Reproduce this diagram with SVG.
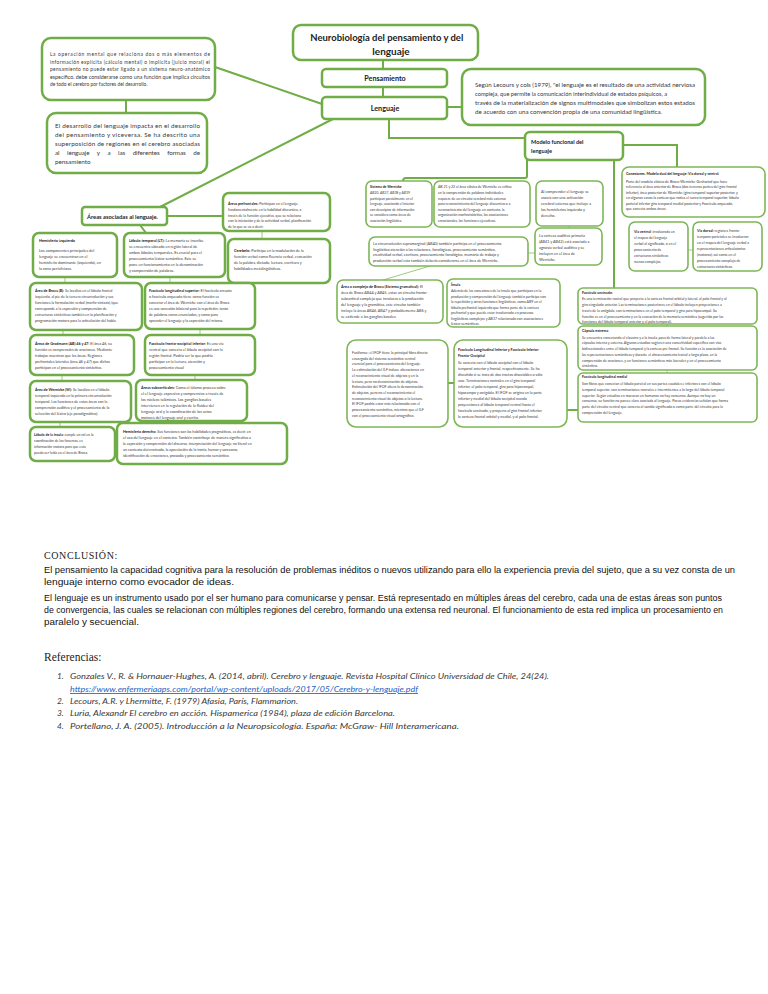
<svg xmlns="http://www.w3.org/2000/svg" width="768" height="994" viewBox="0 0 768 994">
<style>
.bg{fill:#fff}
.b{fill:#fff;stroke:#70AD47;stroke-width:2.5}
.s{fill:#fff;stroke:#7DB657;stroke-width:1.6}
.c{fill:none;stroke:#70AD47;stroke-width:2}
.ct{fill:none;stroke:#9CCB7E;stroke-width:1}
text{font-family:Lato,"Open Sans","Liberation Sans",sans-serif;fill:#3a3a3a}
.bd{font-weight:700;fill:#222}
.ser{font-family:"Liberation Serif","DejaVu Serif",serif;fill:#222}
.nar{font-family:"Liberation Sans",Arial,sans-serif;fill:#111}
.it{font-style:italic;font-weight:400;fill:#3a3a3a}
.lnk{fill:#1F5FBF;text-decoration:underline}
</style>
<rect class="bg" x="0" y="0" width="768" height="994"/>

<g id="connectors">
  <path class="c" d="M383,60 V69"/>
  <path class="c" d="M383,87 V97"/>
  <path class="c" d="M215,67 L322,104"/>
  <path class="c" d="M447,107 H462"/>
  <path class="c" d="M126,100 V113"/>
  <path class="c" d="M333,119 L160,207"/>
  <path class="c" d="M389,119 V138 H525"/>
  <path class="c" d="M527,160 V176 Q527,178 525,178 H406 Q403,178 403,181"/>
  <path class="c" d="M623,145 H677 V167"/>
  <path class="c" d="M614,160 V288"/>
  <path class="c" d="M167,216 H223"/>
  <path class="c" d="M140,225 L146,233"/>
  <path class="ct" d="M262,231 V239"/>
  <path class="ct" d="M430,266 L383,280"/>
  <path class="ct" d="M528,253 H535"/>
  <path class="ct" d="M569,226 V228"/>
  <path class="c" d="M448,383 H454"/>
  <path class="c" d="M567,410 H578"/>
  <path class="ct" d="M688,250 H693"/>
  <path class="ct" d="M667,324 V326"/>
  <path class="ct" d="M667,370 V373"/>
  <path class="ct" d="M65,277 V283"/>
  <path class="ct" d="M170,277 V283"/>
  <path class="ct" d="M63,330 V335"/>
  <path class="ct" d="M200,329 V335"/>
  <path class="ct" d="M62,375 V381"/>
  <path class="ct" d="M195,375 V380"/>
  <path class="ct" d="M60,422 V427"/>
  <path class="ct" d="M190,421 V423"/>
</g>

<g id="n-operacion">
  <rect class="b" x="42" y="38" width="173" height="62" rx="9"/>
  <text font-size="4.9">
    <tspan x="50" y="56" textLength="160" lengthAdjust="spacing">La operación mental que relaciona dos o más elementos de</tspan>
    <tspan x="50" y="63.5" textLength="160" lengthAdjust="spacing">información explícita (cálculo mental) o implícita (juicio moral) el</tspan>
    <tspan x="50" y="71" textLength="160" lengthAdjust="spacing">pensamiento no puede estar ligado a un sistema neuro-anatómico</tspan>
    <tspan x="50" y="78.5" textLength="160" lengthAdjust="spacingAndGlyphs">específico. debe considerarse como una función que implica circuitos</tspan>
    <tspan x="50" y="86">de todo el cerebro por factores del desarrollo.</tspan>
  </text>
</g>

<g id="n-titulo">
  <rect class="b" x="293" y="25" width="185" height="35" rx="8"/>
  <text class="bd" font-size="10" text-anchor="middle">
    <tspan x="388" y="41" textLength="153" lengthAdjust="spacingAndGlyphs">Neurobiología del pensamiento y del</tspan>
    <tspan x="391" y="55">lenguaje</tspan>
  </text>
</g>

<g id="n-pensamiento">
  <rect class="b" x="322" y="69" width="125" height="18" rx="4"/>
  <text class="bd" font-size="7.2" text-anchor="middle" x="385" y="81">Pensamiento</text>
</g>

<g id="n-lenguaje">
  <rect class="b" x="322" y="97" width="125" height="22" rx="4"/>
  <text class="bd" font-size="7.2" text-anchor="middle" x="385" y="111">Lenguaje</text>
</g>

<g id="n-lecours">
  <rect class="b" x="462" y="69" width="243" height="56" rx="9"/>
  <text font-size="5.4">
    <tspan x="475" y="87" textLength="220" lengthAdjust="spacingAndGlyphs">Según Lecours y cols (1979), "el lenguaje es el resultado de una actividad nerviosa</tspan>
    <tspan x="475" y="96" textLength="192" lengthAdjust="spacingAndGlyphs">compleja, que permite la comunicación interindividual de estados psíquicos, a</tspan>
    <tspan x="475" y="105" textLength="220" lengthAdjust="spacingAndGlyphs">través de la materialización de signos multimodales que simbolizan estos estados</tspan>
    <tspan x="475" y="114" textLength="187" lengthAdjust="spacingAndGlyphs">de acuerdo con una convención propia de una comunidad lingüística.</tspan>
  </text>
</g>

<g id="n-desarrollo">
  <rect class="b" x="47" y="113" width="160" height="60" rx="9"/>
  <text font-size="6.3">
    <tspan x="55" y="127.5" textLength="145" lengthAdjust="spacing">El desarrollo del lenguaje impacta en el desarrollo</tspan>
    <tspan x="55" y="136.5" textLength="145" lengthAdjust="spacing">del pensamiento y viceversa. Se ha descrito una</tspan>
    <tspan x="55" y="145.5" textLength="145" lengthAdjust="spacing">superposición de regiones en el cerebro asociadas</tspan>
    <tspan x="55" y="154.5" textLength="145" lengthAdjust="spacing" word-spacing="6">al lenguaje y a las diferentes formas de</tspan>
    <tspan x="55" y="164">pensamiento</tspan>
  </text>
</g>

<g id="n-modelo">
  <rect class="b" x="525" y="132" width="98" height="28" rx="5"/>
  <text class="bd" font-size="5.6">
    <tspan x="531" y="143.5">Modelo funcional del</tspan>
    <tspan x="531" y="152.5">lenguaje</tspan>
  </text>
</g>

<g id="n-areas-asociadas">
  <rect class="b" x="82" y="207" width="85" height="18" rx="3"/>
  <text class="bd" font-size="5.2" x="87" y="219" textLength="71" lengthAdjust="spacingAndGlyphs">Áreas asociadas al lenguaje.</text>
</g>

<g id="n-prefrontales">
  <rect class="b" x="223" y="193" width="107" height="38" rx="6"/>
  <text font-size="3.6">
    <tspan x="228" y="205"><tspan class="bd">Áreas prefrontales:</tspan> Participan en el lenguaje,</tspan>
    <tspan x="228" y="210.8">fundamentalmente en la habilidad discursiva, a</tspan>
    <tspan x="228" y="216.6">través de la función ejecutiva, que se relaciona</tspan>
    <tspan x="228" y="222.4">con la iniciación y de la actividad verbal, planificación</tspan>
    <tspan x="228" y="228">de lo que se va a decir.</tspan>
  </text>
</g>

<g id="n-cerebelo">
  <rect class="b" x="228" y="239" width="102" height="44" rx="6"/>
  <text font-size="3.8">
    <tspan x="234" y="252"><tspan class="bd">Cerebelo:</tspan> Participa en la modulación de la</tspan>
    <tspan x="234" y="258">función verbal como fluencia verbal, evocación</tspan>
    <tspan x="234" y="264">de la palabra, dictado, lectura, escritura y</tspan>
    <tspan x="234" y="270">habilidades metalingüísticas.</tspan>
  </text>
</g>

<g id="n-hemisferio-izq">
  <rect class="b" x="33" y="233" width="84" height="44" rx="6"/>
  <text font-size="3.9">
    <tspan x="39" y="242" class="bd">Hemisferio izquierdo</tspan>
    <tspan x="39" y="252">Los componentes principales del</tspan>
    <tspan x="39" y="258">lenguaje se encuentran en el</tspan>
    <tspan x="39" y="264">hemisferio dominante (izquierdo), en</tspan>
    <tspan x="39" y="270">la zona perisilviana.</tspan>
  </text>
</g>

<g id="n-lobulo-temporal">
  <rect class="b" x="124" y="233" width="101" height="44" rx="6"/>
  <text font-size="3.8">
    <tspan x="129" y="241.5"><tspan class="bd">Lóbulo temporal (LT):</tspan> La memoria se inscribe</tspan>
    <tspan x="129" y="247.5">se encuentra ubicado en región lateral de</tspan>
    <tspan x="129" y="253.5">ambos lóbulos temporales. Es crucial para el</tspan>
    <tspan x="129" y="259.5">procesamiento léxico-semántico. Este se</tspan>
    <tspan x="129" y="265.5">pone en funcionamiento en la denominación</tspan>
    <tspan x="129" y="271.5">y comprensión de palabras.</tspan>
  </text>
</g>

<g id="n-broca">
  <rect class="b" x="30" y="283" width="112" height="47" rx="6"/>
  <text font-size="3.65">
    <tspan x="35" y="292"><tspan class="bd">Área de Broca (B):</tspan> Se localiza en el lóbulo frontal</tspan>
    <tspan x="35" y="298">izquierdo, al pie de la tercera circunvolución y sus</tspan>
    <tspan x="35" y="304">funciones la formulación verbal (morfo-sintaxis) (que</tspan>
    <tspan x="35" y="310">corresponde a la expresión y comprensión de</tspan>
    <tspan x="35" y="316">estructuras sintácticas también en la planificación y</tspan>
    <tspan x="35" y="322">programación motora para la articulación del habla.</tspan>
  </text>
</g>

<g id="n-fls">
  <rect class="b" x="145" y="283" width="110" height="46" rx="6"/>
  <text font-size="3.7">
    <tspan x="149" y="292"><tspan class="bd">Fascículo longitudinal superior:</tspan> El fascículo arcuato</tspan>
    <tspan x="149" y="298">o fascículo arqueado tiene como función es</tspan>
    <tspan x="149" y="304">conectar el área de Wernicke con el área de Broca</tspan>
    <tspan x="149" y="310">es una conexión bilateral para la repetición, tanto</tspan>
    <tspan x="149" y="316">de palabras como enunciados, y como para</tspan>
    <tspan x="149" y="322">aprender el lenguaje y la expresión del mismo.</tspan>
  </text>
</g>

<g id="n-grodmann">
  <rect class="b" x="30" y="335" width="104" height="40" rx="6"/>
  <text font-size="3.7">
    <tspan x="35" y="345"><tspan class="bd">Áreas de Grodmann (AB) 46 y 47:</tspan> El área 46, su</tspan>
    <tspan x="35" y="351">función es comprensión de oraciones. Mediante</tspan>
    <tspan x="35" y="357">trabajos muestran que las áreas. Regiones</tspan>
    <tspan x="35" y="363">prefrontales laterales (área 46 y 47) que dichas</tspan>
    <tspan x="35" y="369">participan en el procesamiento sintáctico.</tspan>
  </text>
</g>

<g id="n-ffoi">
  <rect class="b" x="145" y="335" width="110" height="40" rx="6"/>
  <text font-size="3.8">
    <tspan x="149" y="345"><tspan class="bd">Fascículo fronto-occipital inferior:</tspan> Es una vía</tspan>
    <tspan x="149" y="351">ventral que conecta el lóbulo occipital con la</tspan>
    <tspan x="149" y="357">región frontal. Podría ser lo que podría</tspan>
    <tspan x="149" y="363">participar en la lectura, atención y</tspan>
    <tspan x="149" y="369">procesamiento visual</tspan>
  </text>
</g>

<g id="n-wernicke">
  <rect class="b" x="30" y="381" width="101" height="41" rx="6"/>
  <text font-size="3.7">
    <tspan x="35" y="391"><tspan class="bd">Área de Wernicke (W):</tspan> Se localiza en el lóbulo</tspan>
    <tspan x="35" y="397">temporal izquierdo en la primera circunvolución</tspan>
    <tspan x="35" y="403">temporal. Las funciones de estas áreas son la</tspan>
    <tspan x="35" y="409">comprensión auditiva y el procesamiento de la</tspan>
    <tspan x="35" y="415">selección del léxico (eje paradigmático).</tspan>
  </text>
</g>

<g id="n-subcorticales">
  <rect class="b" x="136" y="380" width="111" height="41" rx="6"/>
  <text font-size="3.8">
    <tspan x="141" y="389"><tspan class="bd">Áreas subcorticales:</tspan> Como el tálamo procesa sobre</tspan>
    <tspan x="141" y="395">el el lenguaje expresivo y comprensivo a través de</tspan>
    <tspan x="141" y="401">los núcleos talámicos. Los ganglios basales</tspan>
    <tspan x="141" y="407">intervienen en la regulación de la fluidez del</tspan>
    <tspan x="141" y="413">lenguaje oral y la coordinación de los actos</tspan>
    <tspan x="141" y="418.5">motores del lenguaje oral y escrito.</tspan>
  </text>
</g>

<g id="n-lobulo-insula">
  <rect class="b" x="30" y="427" width="85" height="34" rx="6"/>
  <text font-size="3.5">
    <tspan x="34" y="436"><tspan class="bd">Lóbulo de la ínsula:</tspan> cumple un rol en la</tspan>
    <tspan x="34" y="442">coordinación de los fonemas, es</tspan>
    <tspan x="34" y="448">información motora para que esta</tspan>
    <tspan x="34" y="454">pueda ser leída en el área de Broca.</tspan>
  </text>
</g>

<g id="n-hemisferio-der">
  <rect class="b" x="117" y="423" width="170" height="41" rx="6"/>
  <text font-size="3.7">
    <tspan x="123" y="433"><tspan class="bd">Hemisferio derecho:</tspan> Sus funciones son las habilidades pragmáticas, es decir, en</tspan>
    <tspan x="123" y="439">el uso del lenguaje en el contexto. También contribuye de manera significativa a</tspan>
    <tspan x="123" y="445">la expresión y comprensión del discurso, interpretación del lenguaje no literal en</tspan>
    <tspan x="123" y="451">un contexto determinado, la apreciación de la ironía, humor y sarcasmo,</tspan>
    <tspan x="123" y="457">identificación de emociones, prosodia y procesamiento semántico.</tspan>
  </text>
</g>

<g id="n-sistema-wernicke">
  <rect class="s" x="366" y="181" width="66" height="46" rx="6"/>
  <text font-size="3.4">
    <tspan x="370" y="188" class="bd">Sistema de Wernicke</tspan>
    <tspan x="370" y="194">AB20, AB37, AB38 y AB39</tspan>
    <tspan x="370" y="199.5">participan parcialmente en el</tspan>
    <tspan x="370" y="205">lenguaje, asociando el interior</tspan>
    <tspan x="370" y="210.5">con descriptor de información</tspan>
    <tspan x="370" y="216">se considera como áreas de</tspan>
    <tspan x="370" y="221.5">asociación lingüística.</tspan>
  </text>
</g>

<g id="n-ab21">
  <rect class="s" x="434" y="181" width="96" height="46" rx="6"/>
  <text font-size="3.5">
    <tspan x="438" y="188">AB 21 y 22 el área clásica de Wernicke es crítica</tspan>
    <tspan x="438" y="194">en la comprensión de palabras individuales</tspan>
    <tspan x="438" y="199.5">requiere de un circuito cerebral más extenso</tspan>
    <tspan x="438" y="205">para reconocimiento del lenguaje discursivo o a</tspan>
    <tspan x="438" y="210.5">reconocimiento del lenguaje en contexto, la</tspan>
    <tspan x="438" y="216">organización morfosintáctica, las asociaciones</tspan>
    <tspan x="438" y="221.5">emocionales, las funciones ejecutivas.</tspan>
  </text>
</g>

<g id="n-al-comprender">
  <rect class="s" x="536" y="181" width="67" height="45" rx="6"/>
  <text font-size="3.8">
    <tspan x="541" y="193">Al comprender el lenguaje se</tspan>
    <tspan x="541" y="199">asocia con una activación</tspan>
    <tspan x="541" y="205">cerebral extensa que incluye a</tspan>
    <tspan x="541" y="211">los hemisferios izquierdo y</tspan>
    <tspan x="541" y="217">derecho.</tspan>
  </text>
</g>

<g id="n-supramarginal">
  <rect class="s" x="369" y="237" width="159" height="29" rx="6"/>
  <text font-size="3.75">
    <tspan x="373" y="245">La circunvolución supramarginal (AB40) también participa en el procesamiento</tspan>
    <tspan x="373" y="250.5">lingüístico atención a las relaciones, fonológicas, procesamiento semántico,</tspan>
    <tspan x="373" y="256">creatividad verbal, escritura, procesamiento fonológico, memoria de trabajo y</tspan>
    <tspan x="373" y="261.5">producción verbal esta también debería considerarse en el área de Wernicke.</tspan>
  </text>
</g>

<g id="n-corteza-auditiva">
  <rect class="s" x="535" y="228" width="67" height="37" rx="6"/>
  <text font-size="3.8">
    <tspan x="539" y="236.5">La corteza auditiva primaria</tspan>
    <tspan x="539" y="242.5">(AB41 y AB42) está asociada a</tspan>
    <tspan x="539" y="248.5">agnosia verbal auditiva y se</tspan>
    <tspan x="539" y="254.5">incluyen en el área de</tspan>
    <tspan x="539" y="260.5">Wernicke.</tspan>
  </text>
</g>

<g id="n-complejo-broca">
  <rect class="s" x="337" y="280" width="106" height="43" rx="6"/>
  <text font-size="3.75">
    <tspan x="341" y="288"><tspan class="bd">Área o complejo de Broca (Sistema gramatical):</tspan> El</tspan>
    <tspan x="341" y="294">área de Broca AB44 y AB45, estas un circuito fronto-</tspan>
    <tspan x="341" y="300">subcortical complejo que involucra a la producción</tspan>
    <tspan x="341" y="306">del lenguaje y la gramática, este circuito también</tspan>
    <tspan x="341" y="312">incluye la áreas AB46, AB47 y probablemente AB6 y</tspan>
    <tspan x="341" y="318">se extiende a los ganglios basales.</tspan>
  </text>
</g>

<g id="n-insula">
  <rect class="s" x="447" y="279" width="113" height="48" rx="6"/>
  <text font-size="3.55">
    <tspan x="451" y="285.5" class="bd">Ínsula</tspan>
    <tspan x="451" y="292">Además de las conexiones de la ínsula que participan en la</tspan>
    <tspan x="451" y="297.5">producción y comprensión del lenguaje también participa con</tspan>
    <tspan x="451" y="303">la repetición y otras funciones lingüísticas, como AB9 en el</tspan>
    <tspan x="451" y="308.5">lóbulo prefrontal izquierdo que forma parte de la corteza</tspan>
    <tspan x="451" y="314">prefrontal y que puede estar involucrado en procesos</tspan>
    <tspan x="451" y="319.5">lingüísticos complejos y AB37 relacionado con asociaciones</tspan>
    <tspan x="451" y="325">léxico-semánticas.</tspan>
  </text>
</g>

<g id="n-fusiforme">
  <rect class="s" x="347" y="340" width="101" height="87" rx="9"/>
  <text font-size="3.6">
    <tspan x="352" y="354">Fusiforme: el IFOF tiene la principal fibra directa</tspan>
    <tspan x="352" y="359.7">encargada del sistema semántico ventral</tspan>
    <tspan x="352" y="365.4">esencial para el procesamiento del lenguaje.</tspan>
    <tspan x="352" y="371.1">La estimulación del ILF induce alteraciones en</tspan>
    <tspan x="352" y="376.8">el reconocimiento visual de objetos y en la</tspan>
    <tspan x="352" y="382.5">lectura, pero no denominación de objetos.</tspan>
    <tspan x="352" y="388.2">Estimulación del IFOF altera la denominación</tspan>
    <tspan x="352" y="393.9">de objetos, pero no el reconocimiento el</tspan>
    <tspan x="352" y="399.6">reconocimiento visual de objetos o la lectura.</tspan>
    <tspan x="352" y="405.3">El IFOF podría estar más relacionado con el</tspan>
    <tspan x="352" y="411">procesamiento semántico, mientras que el ILF</tspan>
    <tspan x="352" y="416.7">con el procesamiento visual ortográfico.</tspan>
  </text>
</g>

<g id="n-fli">
  <rect class="s" x="454" y="340" width="113" height="87" rx="9"/>
  <text font-size="3.7">
    <tspan x="458" y="351" class="bd">Fascículo Longitudinal Inferior y Fascículo Inferior</tspan>
    <tspan x="458" y="357" class="bd">Fronto-Occipital</tspan>
    <tspan x="458" y="364">Se conecta con el lóbulo occipital con el lóbulo</tspan>
    <tspan x="458" y="370">temporal anterior y frontal, respectivamente. Se ha</tspan>
    <tspan x="458" y="376">discutido si se trata de dos tractos disociables o sólo</tspan>
    <tspan x="458" y="382">uno. Terminaciones rostrales en el giro temporal</tspan>
    <tspan x="458" y="388">inferior, el polo temporal, giro para hipocampal,</tspan>
    <tspan x="458" y="394">hipocampo y amígdala. El IFOF se origina en la parte</tspan>
    <tspan x="458" y="400">inferior y medial del lóbulo occipital manda</tspan>
    <tspan x="458" y="406">proyecciones al lóbulo temporal ventral hasta el</tspan>
    <tspan x="458" y="412">fascículo uncinado, y proyecta al giro frontal inferior,</tspan>
    <tspan x="458" y="418">la corteza frontal orbital y medial, y al polo frontal.</tspan>
  </text>
</g>

<g id="n-conexiones">
  <rect class="s" x="622" y="167" width="143" height="50" rx="7"/>
  <text font-size="3.6">
    <tspan x="626" y="175" class="bd">Conexiones. Modelo dual del lenguaje: Vía dorsal y ventral.</tspan>
    <tspan x="626" y="182.5">Parte del modelo clásico de Broca-Wernicke-Geshwind que hace</tspan>
    <tspan x="626" y="188">referencia al área anterior de Broca (dos terceras partes del giro frontal</tspan>
    <tspan x="626" y="193.5">inferior), área posterior de Wernicke (giro temporal superior posterior, y</tspan>
    <tspan x="626" y="199">en algunos casos la corteza que rodea el surco temporal superior, lóbulo</tspan>
    <tspan x="626" y="204.5">parietal inferior giro temporal medial posterior y Fascículo arqueado,</tspan>
    <tspan x="626" y="210">que conecta ambas áreas.</tspan>
  </text>
</g>

<g id="n-via-ventral">
  <rect class="s" x="629" y="222" width="59" height="49" rx="6"/>
  <text font-size="3.5">
    <tspan x="634" y="233"><tspan class="bd">Vía ventral:</tspan> involucrada en</tspan>
    <tspan x="634" y="239">el mapeo del lenguaje</tspan>
    <tspan x="634" y="245">verbal al significado, o en el</tspan>
    <tspan x="634" y="251">procesamiento de</tspan>
    <tspan x="634" y="257">estructuras sintácticas</tspan>
    <tspan x="634" y="263">menos complejas.</tspan>
  </text>
</g>

<g id="n-via-dorsal">
  <rect class="s" x="693" y="222" width="69" height="49" rx="6"/>
  <text font-size="3.6">
    <tspan x="697" y="232"><tspan class="bd">Vía dorsal:</tspan> regiones fronto-</tspan>
    <tspan x="697" y="238">temporo-parietales se involucran</tspan>
    <tspan x="697" y="244">en el mapeo del lenguaje verbal a</tspan>
    <tspan x="697" y="250">representaciones articulatorias</tspan>
    <tspan x="697" y="256">(motoras); así como en el</tspan>
    <tspan x="697" y="262">procesamiento complejo de</tspan>
    <tspan x="697" y="268">estructuras sintácticas.</tspan>
  </text>
</g>

<g id="n-uncinado">
  <rect class="s" x="578" y="288" width="179" height="36" rx="5"/>
  <text font-size="3.55">
    <tspan x="582" y="293.5" class="bd">Fascículo uncinado:</tspan>
    <tspan x="582" y="300">Es una terminación rostral que proyecta a la corteza frontal orbital y lateral, al polo frontal y al</tspan>
    <tspan x="582" y="306">giro cingulado anterior. Las terminaciones posteriores en el lóbulo incluyen proyecciones a</tspan>
    <tspan x="582" y="312">través de la amígdala, con terminaciones en el polo temporal y giro para hipocampal. Su</tspan>
    <tspan x="582" y="318">función es en el procesamiento y en la evocación de la memoria semántica (sugerido por las</tspan>
    <tspan x="582" y="323">funciones del lóbulo temporal anterior y el polo temporal).</tspan>
  </text>
</g>

<g id="n-capsula">
  <rect class="s" x="578" y="326" width="179" height="44" rx="5"/>
  <text font-size="3.55">
    <tspan x="582" y="332" class="bd">Cápsula extrema</tspan>
    <tspan x="582" y="338.5">Se encuentra conectando el claustro y a la ínsula, pasa de forma lateral y paralela a las</tspan>
    <tspan x="582" y="344.3">cápsulas interna y externa. Algunos estudios sugieren una conectividad específica con vías</tspan>
    <tspan x="582" y="350.1">bidireccionales entre el lóbulo temporal y la corteza pre frontal. Su función es la asociación de</tspan>
    <tspan x="582" y="355.9">las representaciones semánticas y durante el almacenamiento lexical a largo plazo, en la</tspan>
    <tspan x="582" y="361.7">comprensión de oraciones, y en funciones semánticas más laterales y en el procesamiento</tspan>
    <tspan x="582" y="367.2">sintáctico.</tspan>
  </text>
</g>

<g id="n-flm">
  <rect class="s" x="578" y="373" width="179" height="49" rx="5"/>
  <text font-size="3.55">
    <tspan x="582" y="378" class="bd">Fascículo longitudinal medial</tspan>
    <tspan x="582" y="385">Son fibras que conectan el lóbulo parietal en sus partes caudales e inferiores con el lóbulo</tspan>
    <tspan x="582" y="390.8">temporal superior, con terminaciones rostrales e intermitentes a lo largo del lóbulo temporal</tspan>
    <tspan x="582" y="396.6">superior. Según estudios en macacos en humanos no hay consenso. Aunque no hay un</tspan>
    <tspan x="582" y="402.4">consenso, su función no parece clara asociada al lenguaje. Pocas evidencias señalan que forma</tspan>
    <tspan x="582" y="408.2">parte del circuito ventral que conecta al sonido significado o como parte del circuito para la</tspan>
    <tspan x="582" y="414">comprensión del lenguaje.</tspan>
  </text>
</g>

<g id="conclusion">
  <text class="ser" font-size="10" letter-spacing="0.6" x="44" y="559">CONCLUSIÓN:</text>
  <text class="nar" font-size="9.2">
    <tspan x="44" y="573" textLength="691" lengthAdjust="spacingAndGlyphs">El pensamiento la capacidad cognitiva para la resolución de problemas inéditos o nuevos utilizando para ello la experiencia previa del sujeto, que a su vez consta de un</tspan>
    <tspan x="44" y="585" textLength="190" lengthAdjust="spacingAndGlyphs">lenguaje interno como evocador de ideas.</tspan>
    <tspan x="44" y="601" textLength="678" lengthAdjust="spacingAndGlyphs">El lenguaje es un instrumento usado por el ser humano para comunicarse y pensar. Está representado en múltiples áreas del cerebro, cada una de estas áreas son puntos</tspan>
    <tspan x="44" y="613" textLength="679" lengthAdjust="spacingAndGlyphs">de convergencia, las cuales se relacionan con múltiples regiones del cerebro, formando una extensa red neuronal. El funcionamiento de esta red implica un procesamiento en</tspan>
    <tspan x="44" y="625" textLength="95" lengthAdjust="spacingAndGlyphs">paralelo y secuencial.</tspan>
  </text>
</g>

<g id="referencias">
  <text class="ser" font-size="11.5" x="44" y="661">Referencias:</text>
  <text class="it" font-size="8.3">
    <tspan x="57" y="679">1.</tspan>
    <tspan x="70" y="679" textLength="479" lengthAdjust="spacingAndGlyphs">Gonzales V., R. &amp; Hornauer-Hughes, A. (2014, abril). Cerebro y lenguaje. Revista Hospital Clínico Universidad de Chile, 24(24).</tspan>
    <tspan x="70" y="692" class="lnk" textLength="348" lengthAdjust="spacingAndGlyphs">https://www.enfermeriaaps.com/portal/wp-content/uploads/2017/05/Cerebro-y-lenguaje.pdf</tspan>
    <tspan x="57" y="704">2.</tspan>
    <tspan x="70" y="704" textLength="228" lengthAdjust="spacingAndGlyphs">Lecours, A.R. y Lhermitte, F. (1979) Afasia, París, Flammarion.</tspan>
    <tspan x="57" y="716">3.</tspan>
    <tspan x="70" y="716" textLength="325" lengthAdjust="spacingAndGlyphs">Luria, Alexandr El cerebro en acción. Hispamerica (1984), plaza de edición Barcelona.</tspan>
    <tspan x="57" y="729">4.</tspan>
    <tspan x="70" y="729" textLength="389" lengthAdjust="spacingAndGlyphs">Portellano, J. A. (2005). Introducción a la Neuropsicología. España: McGraw- Hill Interamericana.</tspan>
  </text>
</g>
</svg>
